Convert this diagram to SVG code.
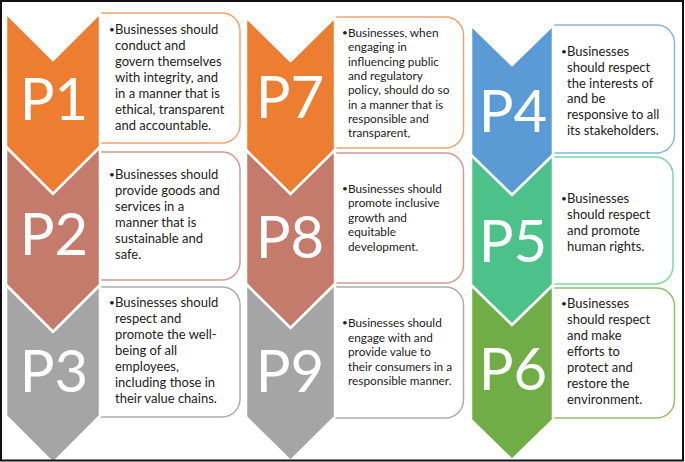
<svg xmlns="http://www.w3.org/2000/svg" width="685" height="462" viewBox="0 0 685 462">
<style>
.chev{stroke:#fff;stroke-width:2.5;stroke-linejoin:miter}
.box{fill:#fff;stroke-width:1.5}
.lbl{font-family:Lato,"Open Sans",sans-serif;font-size:58px;fill:#fff;text-anchor:middle}
.t{font-family:Lato,"Open Sans",sans-serif;font-size:13px;fill:#222}
.s{font-size:11.8px}
.b{font-size:10px}
</style>
<rect x="0" y="0" width="685" height="462" fill="#fff"/>
<g id="connectors"></g>
<g id="P1">
<path class="box" stroke="#F0A36E" d="M100,13 H222 A18,18 0 0 1 240,31 V125 A18,18 0 0 1 222,143 H100"/>
<path class="chev" fill="#ED7D31" d="M6,13 L53,60 L100,13 L100,147 L53,194 L6,147 Z"/>
<text class="lbl" x="54" y="120">P1</text>
<text class="t"><tspan class="b" x="109" y="33">•</tspan><tspan x="115" y="34">Businesses should</tspan><tspan x="115" y="50">conduct and</tspan><tspan x="115" y="66">govern themselves</tspan><tspan x="115" y="82">with integrity, and</tspan><tspan x="115" y="98">in a manner that is</tspan><tspan x="115" y="114">ethical, transparent</tspan><tspan x="115" y="130">and accountable.</tspan></text>
</g>
<g id="P2">
<path class="box" stroke="#D39B8F" d="M100,152 H222 A18,18 0 0 1 240,170 V262 A18,18 0 0 1 222,280 H100"/>
<path class="chev" fill="#C57B6C" d="M6,147 L53,194 L100,147 L100,285 L53,332 L6,285 Z"/>
<text class="lbl" x="54" y="255">P2</text>
<text class="t"><tspan class="b" x="109" y="178">•</tspan><tspan x="115" y="179">Businesses should</tspan><tspan x="115" y="195">provide goods and</tspan><tspan x="115" y="211">services in a</tspan><tspan x="115" y="227">manner that is</tspan><tspan x="115" y="243">sustainable and</tspan><tspan x="115" y="259">safe.</tspan></text>
</g>
<g id="P3">
<path class="box" stroke="#ADADAD" d="M100,287 H222 A18,18 0 0 1 240,305 V399 A18,18 0 0 1 222,417 H100"/>
<path class="chev" fill="#A5A5A5" d="M6,285 L53,332 L100,285 L100,416 L53,463 L6,416 Z"/>
<text class="lbl" x="54" y="392">P3</text>
<text class="t"><tspan class="b" x="109" y="306">•</tspan><tspan x="115" y="307">Businesses should</tspan><tspan x="115" y="323">respect and</tspan><tspan x="115" y="339">promote the well-</tspan><tspan x="115" y="355">being of all</tspan><tspan x="115" y="371">employees,</tspan><tspan x="115" y="387">including those in</tspan><tspan x="115" y="403">their value chains.</tspan></text>
</g>
<g id="P7">
<path class="box" stroke="#F0A36E" d="M335,17 H445.5 A18,18 0 0 1 463.5,35 V130 A18,18 0 0 1 445.5,148 H335"/>
<path class="chev" fill="#ED7D31" d="M246,17 L290.5,61 L335,17 L335,150 L290.5,194 L246,150 Z"/>
<text class="lbl" x="290" y="118">P7</text>
<text class="t s"><tspan class="b" x="342" y="36">•</tspan><tspan x="348" y="37">Businesses, when</tspan><tspan x="348" y="51.3">engaging in</tspan><tspan x="348" y="65.6">influencing public</tspan><tspan x="348" y="79.9">and regulatory</tspan><tspan x="348" y="94.2">policy, should do so</tspan><tspan x="348" y="108.5">in a manner that is</tspan><tspan x="348" y="122.8">responsible and</tspan><tspan x="348" y="137.1">transparent,</tspan></text>
</g>
<g id="P8">
<path class="box" stroke="#D39B8F" d="M335,153 H445.5 A18,18 0 0 1 463.5,171 V265 A18,18 0 0 1 445.5,283 H335"/>
<path class="chev" fill="#C57B6C" d="M246,150 L290.5,194 L335,150 L335,284 L290.5,328 L246,284 Z"/>
<text class="lbl" x="290" y="258">P8</text>
<text class="t s"><tspan class="b" x="342" y="192">•</tspan><tspan x="348" y="193">Businesses should</tspan><tspan x="348" y="207.4">promote inclusive</tspan><tspan x="348" y="221.8">growth and</tspan><tspan x="348" y="236.2">equitable</tspan><tspan x="348" y="250.6">development.</tspan></text>
</g>
<g id="P9">
<path class="box" stroke="#ADADAD" d="M335,287 H445.5 A18,18 0 0 1 463.5,305 V400 A18,18 0 0 1 445.5,418 H335"/>
<path class="chev" fill="#A5A5A5" d="M246,284 L290.5,328 L335,284 L335,417 L290.5,461 L246,417 Z"/>
<text class="lbl" x="290" y="392">P9</text>
<text class="t s"><tspan class="b" x="342" y="326">•</tspan><tspan x="348" y="327">Businesses should</tspan><tspan x="348" y="341.5">engage with and</tspan><tspan x="348" y="356">provide value to</tspan><tspan x="348" y="370.5">their consumers in a</tspan><tspan x="348" y="385">responsible manner.</tspan></text>
</g>
<g id="P4">
<path class="box" stroke="#86B6E3" d="M553,25 H656.5 A18,18 0 0 1 674.5,43 V135 A18,18 0 0 1 656.5,153 H553"/>
<path class="chev" fill="#5B9BD5" d="M471,25 L512,65 L553,25 L553,155 L512,195 L471,155 Z"/>
<text class="lbl" x="513" y="132">P4</text>
<text class="t"><tspan class="b" x="561" y="55">•</tspan><tspan x="567" y="56">Businesses</tspan><tspan x="567" y="71.8">should respect</tspan><tspan x="567" y="87.6">the interests of</tspan><tspan x="567" y="103.4">and be</tspan><tspan x="567" y="119.2">responsive to all</tspan><tspan x="567" y="135">its stakeholders.</tspan></text>
</g>
<g id="P5">
<path class="box" stroke="#7ED6A6" d="M553,157 H655 A18,18 0 0 1 673,175 V266 A18,18 0 0 1 655,284 H553"/>
<path class="chev" fill="#4CC18A" d="M471,155 L512,195 L553,155 L553,285 L512,325 L471,285 Z"/>
<text class="lbl" x="513" y="262">P5</text>
<text class="t"><tspan class="b" x="561" y="202">•</tspan><tspan x="567" y="203">Businesses</tspan><tspan x="567" y="219">should respect</tspan><tspan x="567" y="235">and promote</tspan><tspan x="567" y="251">human rights.</tspan></text>
</g>
<g id="P6">
<path class="box" stroke="#8DC26A" d="M553,288 H656.5 A18,18 0 0 1 674.5,306 V400 A18,18 0 0 1 656.5,418 H553"/>
<path class="chev" fill="#70AD47" d="M471,285 L512,325 L553,285 L553,420 L512,460 L471,420 Z"/>
<text class="lbl" x="513" y="390">P6</text>
<text class="t"><tspan class="b" x="561" y="307">•</tspan><tspan x="567" y="308">Businesses</tspan><tspan x="567" y="324">should respect</tspan><tspan x="567" y="340">and make</tspan><tspan x="567" y="356">efforts to</tspan><tspan x="567" y="372">protect and</tspan><tspan x="567" y="388">restore the</tspan><tspan x="567" y="404">environment.</tspan></text>
</g>
<rect x="1" y="1" width="682" height="459.5" fill="none" stroke="#111" stroke-width="2"/>
</svg>
